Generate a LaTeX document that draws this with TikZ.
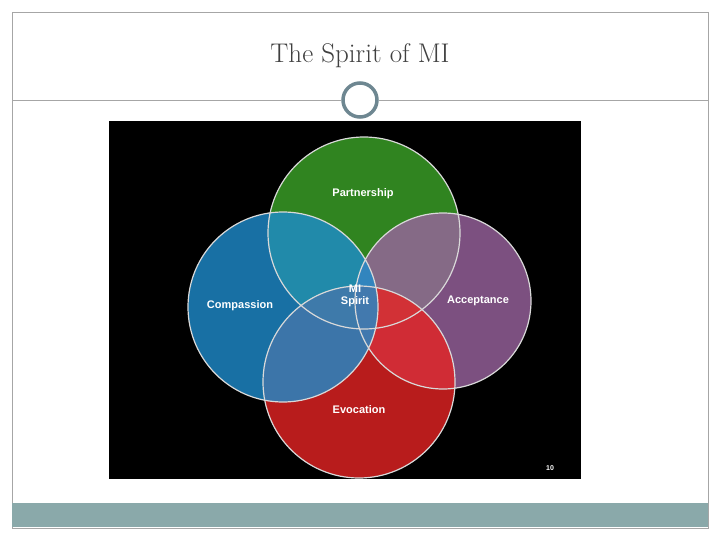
\documentclass[tikz,border=0pt]{standalone}
\usepackage{fontspec}
\newfontfamily\sansf{Liberation Sans}
\begin{document}
\begin{tikzpicture}[x=1pt,y=-1pt,
  venn/.style={fill opacity=0.8},
  lbl/.style={text=white, font=\sansf\bfseries\fontsize{11}{12}\selectfont, align=center}]
\useasboundingbox (0,0) rectangle (720,540);
\draw[gray!70, line width=0.6pt] (12,12) rectangle (708,528);
\node (title) at (360,56) {\fontsize{27}{32}\selectfont\color{black!75}The Spirit of MI};
\node[circle, draw={rgb,255:red,110;green,135;blue,145}, line width=3.5pt, minimum size=34pt, inner sep=0] (ring) at (360,100) {};
\draw[gray!70, line width=0.6pt] (12,100) -- (ring.west);
\draw[gray!70, line width=0.6pt] (ring.east) -- (708,100);
\fill[fill={rgb,255:red,138;green,169;blue,170}] (12,503) rectangle (708,527);
\fill[black] (109,121) rectangle (581,479);
\fill[venn, fill={rgb,255:red,60;green,165;blue,40}] (364,233) circle (96);
\fill[venn, fill={rgb,255:red,155;green,100;blue,160}] (443,301) circle (88);
\fill[venn, fill={rgb,255:red,230;green,35;blue,35}] (359,382) circle (96);
\fill[venn, fill={rgb,255:red,30;green,140;blue,205}] (283,307) circle (95);
\draw[white!85!black, line width=1.2pt] (364,233) circle (96) (443,301) circle (88) (359,382) circle (96) (283,307) circle (95);
\node[lbl] (p) at (363,194) {Partnership};
\node[lbl] (a) at (478,301) {Acceptance};
\node[lbl] (e) at (359,410) {Evocation};
\node[lbl] (c) at (240,306) {Compassion};
\node[lbl] (mi) at (355,296) {MI\\Spirit};
\node[text=white, font=\sansf\bfseries\fontsize{7}{8}\selectfont] (n) at (550,468) {10};
\end{tikzpicture}
\end{document}
